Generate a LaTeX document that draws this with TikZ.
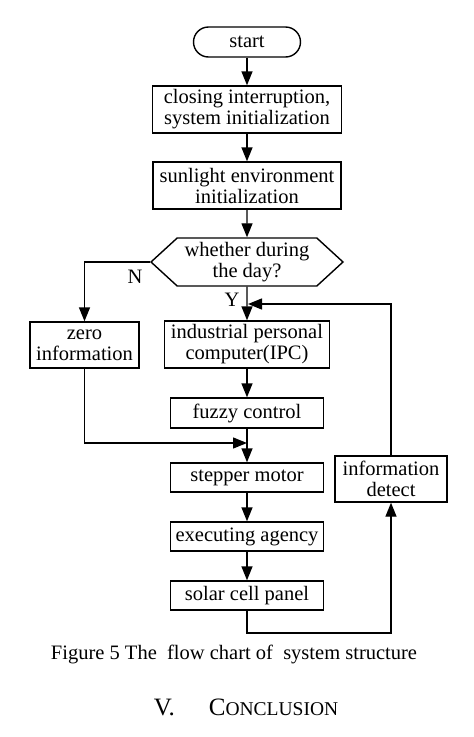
\documentclass[tikz,border=0pt]{standalone}
\usepackage{fontspec}
\setmainfont{Liberation Serif}
\usetikzlibrary{arrows.meta, shapes.symbols}
\tikzset{
    blk/.style={draw, rectangle, line width=1.4pt, align=center, inner sep=0pt,
        font=\fontsize{20.5}{21}\selectfont},
    term/.style={blk, rounded corners=15pt},
    dec/.style={blk, signal, signal to=east and west, signal pointer angle=85},
    lbl/.style={font=\fontsize{20.5}{21}\selectfont}
}

\begin{document}
\begin{tikzpicture}[x=1pt, y=-1pt, line width=1.4pt, >={Triangle[length=14pt,width=11pt]}]
    \useasboundingbox (0,0) rectangle (474,737);
    \node[term, minimum width=107pt, minimum height=30pt](s*0)  at (247,42)    {start};
    \node[blk, minimum width=189pt, minimum height=47pt](s*1)   at (247,109.5) {closing interruption,\\system initialization};
    \node[blk, minimum width=188pt, minimum height=47pt](s*2)   at (247,185.5) {sunlight environment\\initialization};
    \node[dec, minimum width=192pt, minimum height=48pt](s*3)   at (247,262)   {whether during\\the day?};
    \node[blk, minimum width=109pt, minimum height=46pt](s*4)   at (84.5,345)  {zero\\information};
    \node[blk, minimum width=165pt, minimum height=47pt](s*5)   at (247,344.5) {industrial personal\\computer(IPC)};
    \node[blk, minimum width=153pt, minimum height=30pt](s*6)   at (247,413)   {fuzzy control};
    \node[blk, minimum width=153pt, minimum height=29pt](s*7)   at (247,477.5) {stepper motor};
    \node[blk, minimum width=153pt, minimum height=29pt](s*8)   at (247,536.5) {executing agency};
    \node[blk, minimum width=153pt, minimum height=29pt](s*9)   at (247,595.5) {solar cell panel};
    \node[blk, minimum width=112pt, minimum height=46pt](s*10)  at (391,479)   {information\\detect};
    % Joints
    \coordinate (m*1) at (247,443);
    \coordinate (m*2) at (391,633);
    \coordinate (m*3) at (248,304);
    % Transitions
    \path
        (s*0) edge [->] (s*1)
        (s*1) edge [->] (s*2)
        (s*2) edge [->] (s*3)
        (s*3) edge [->] (s*5)
        (s*5) edge [->] (s*6)
        (s*6) edge [->] (s*7)
        (s*7) edge [->] (s*8)
        (s*8) edge [->] (s*9)
        ;
    \draw[->] (s*3.west) -| (s*4);
    \draw[->] (s*4) |- (m*1);
    \draw[->] (s*9) |- (m*2) -- (s*10);
    \draw[->] (s*10) |- (m*3);
    \node[lbl](n*N) at (135,277) {N};
    \node[lbl](n*Y) at (232,300) {Y};
    % Caption
    \node[lbl](cap) at (234,654) {Figure 5 The\ \ flow chart of\ \ system structure};
    \node[font=\fontsize{25}{28}\selectfont](sec) at (246,707)
        {V.\hspace{34pt}C{\fontsize{19.5}{22}\selectfont ONCLUSION}};
\end{tikzpicture}
\end{document}
